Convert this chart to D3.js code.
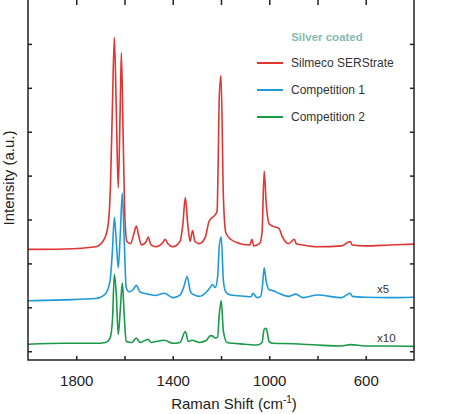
<!DOCTYPE html>
<html><head><meta charset="utf-8">
<script src="https://cdn.jsdelivr.net/npm/d3@7"></script>
<style>body{margin:0;background:#fff}text{font-family:Arial,"Liberation Sans",sans-serif}</style>
</head><body><svg id="c" width="474" height="414"></svg>
<script>
const redShift=[2000,1850,1720,1690,1670,1658,1650,1642,1634,1626,1618,1613,1606,1598,1590,1575,1560,1551,1540,1530,1510,1502,1490,1470,1440,1432,1420,1400,1370,1358,1348,1338,1328,1318,1308,1290,1265,1250,1235,1225,1216,1212,1207,1200,1190,1180,1160,1120,1080,1072,1064,1040,1030,1021,1013,1000,985,960,945,920,896,888,860,800,700,664,656,600,500,400];
const redVal=[2.32,2.33,2.38,2.5,2.8,3.8,5.6,7.15,5.5,3.72,5.5,6.8,5.0,3.0,2.5,2.45,2.7,2.85,2.6,2.42,2.5,2.6,2.42,2.38,2.48,2.55,2.45,2.38,2.5,2.9,3.5,2.9,2.5,2.75,2.5,2.45,2.6,2.95,3.05,3.1,3.2,4.2,5.8,6.28,3.5,2.7,2.55,2.45,2.42,2.55,2.4,2.45,2.7,4.1,3.4,2.9,2.85,2.8,2.6,2.45,2.55,2.45,2.42,2.38,2.4,2.5,2.42,2.4,2.42,2.44];
const blueShift=[2000,1850,1720,1680,1660,1650,1642,1634,1626,1618,1609,1601,1593,1580,1565,1551,1535,1502,1470,1435,1400,1370,1355,1340,1328,1318,1290,1260,1245,1236,1224,1214,1207,1199,1190,1180,1160,1100,1075,1068,1050,1035,1028,1021,1013,1000,985,960,920,890,860,800,700,664,656,600,500,400];
const blueVal=[1.15,1.17,1.2,1.3,1.6,2.3,3.05,2.5,1.9,2.6,3.6,2.5,1.45,1.35,1.4,1.5,1.35,1.3,1.27,1.32,1.22,1.28,1.45,1.7,1.38,1.3,1.25,1.35,1.45,1.52,1.45,1.7,2.4,2.6,1.6,1.35,1.28,1.25,1.24,1.32,1.22,1.25,1.5,1.9,1.6,1.4,1.38,1.32,1.25,1.3,1.22,1.28,1.22,1.32,1.25,1.23,1.22,1.23];
const greenShift=[2000,1850,1720,1680,1660,1650,1642,1634,1626,1618,1609,1601,1593,1570,1551,1535,1502,1490,1435,1400,1370,1348,1335,1320,1290,1260,1245,1236,1225,1214,1207,1199,1190,1175,1100,1050,1030,1021,1013,1000,985,900,800,700,664,600,500,400];
const greenVal=[0.16,0.18,0.18,0.2,0.3,0.7,1.75,1.3,0.38,0.9,1.55,0.8,0.22,0.2,0.3,0.2,0.27,0.2,0.25,0.18,0.2,0.45,0.22,0.25,0.2,0.25,0.35,0.35,0.3,0.32,0.85,1.15,0.45,0.2,0.16,0.14,0.2,0.5,0.52,0.22,0.18,0.17,0.14,0.12,0.15,0.12,0.12,0.11];
const seriesNames=["Silmeco SERStrate","Competition 1","Competition 2"];
const seriesColors=["#e03530","#1f9ad8","#1a9a48"];
const xTicks=[1800,1400,1000,600];
const scaleLabels=["x5","x10"];

const svg=d3.select("#c");
const L=28,R=414,T=0,B=360;
const x=d3.scaleLinear().domain([2000,400]).range([L,R]);
const y=d3.scaleLinear().domain([-0.2,8]).range([B,T]);
const series=[[redShift,redVal],[blueShift,blueVal],[greenShift,greenVal]];
const line=d3.line().x(d=>x(d[0])).y(d=>y(d[1])).curve(d3.curveMonotoneX);
const g=svg.append("g");
series.forEach((s,i)=>{
  g.append("path").datum(d3.zip(s[0],s[1])).attr("d",line).attr("fill","none")
   .attr("stroke",seriesColors[i]).attr("stroke-width",1.6);
});
svg.append("rect").attr("x",L).attr("y",T-2).attr("width",R-L).attr("height",B-T+2).attr("fill","none").attr("stroke","#222").attr("stroke-width",1.5);
const minor=d3.range(1800,400,-200);
svg.append("g").attr("transform",`translate(0,${B})`).call(d3.axisBottom(x).tickValues(minor).tickSize(-4).tickFormat(""))
  .call(a=>{a.select(".domain").remove();a.selectAll("line").attr("stroke","#222").attr("stroke-width",1.5);});
svg.append("g").attr("transform",`translate(0,${T})`).call(d3.axisTop(x).tickValues(minor).tickSize(-5).tickFormat(""))
  .call(a=>{a.select(".domain").remove();a.selectAll("line").attr("stroke","#222").attr("stroke-width",1.5);});
svg.append("g").attr("transform",`translate(0,${B})`).call(d3.axisBottom(x).tickValues(xTicks).tickSize(0).tickPadding(15).tickFormat(d3.format("d")))
  .call(a=>{a.select(".domain").remove();a.selectAll("text").attr("font-size",15).attr("fill","#222");});
const yt=d3.range(0,8);
svg.append("g").attr("transform",`translate(${L},0)`).call(d3.axisRight(y).tickValues(yt).tickSize(4).tickFormat(""))
  .call(a=>{a.select(".domain").remove();a.selectAll("line").attr("stroke","#222").attr("stroke-width",1.5);});
svg.append("g").attr("transform",`translate(${R},0)`).call(d3.axisLeft(y).tickValues(yt).tickSize(4).tickFormat(""))
  .call(a=>{a.select(".domain").remove();a.selectAll("line").attr("stroke","#222").attr("stroke-width",1.5);});
svg.append("text").attr("x",234).attr("y",409).attr("text-anchor","middle").attr("font-size",15).attr("fill","#222")
  .html('Raman Shift (cm<tspan dy="-6" font-size="10">-1</tspan><tspan dy="6">)</tspan>');
svg.append("text").attr("transform","translate(14,178) rotate(-90)").attr("text-anchor","middle").attr("font-size",15).attr("fill","#222").text("Intensity (a.u.)");
svg.append("text").attr("x",327).attr("y",41).attr("text-anchor","middle").attr("font-size",11.5).attr("font-weight","bold").attr("fill","#86b9b4").text("Silver coated");
seriesNames.forEach((n,i)=>{
  const yy=63+i*27;
  svg.append("line").attr("x1",257).attr("x2",283).attr("y1",yy).attr("y2",yy).attr("stroke",seriesColors[i]).attr("stroke-width",2);
  svg.append("text").attr("x",291).attr("y",yy+4).attr("font-size",12).attr("fill","#333").text(n);
});
svg.append("text").attr("x",377).attr("y",293).attr("font-size",11.5).attr("fill","#333").text(scaleLabels[0]);
svg.append("text").attr("x",377).attr("y",342).attr("font-size",11.5).attr("fill","#333").text(scaleLabels[1]);
</script></body></html>
